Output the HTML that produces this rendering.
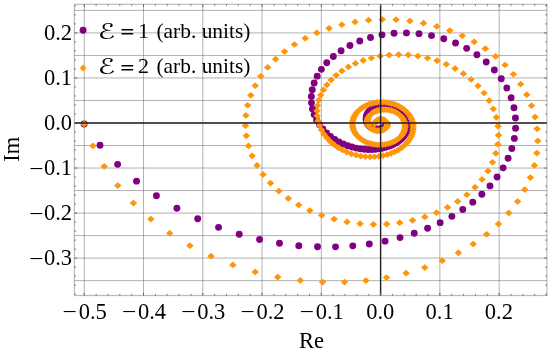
<!DOCTYPE html>
<html><head><meta charset="utf-8"><title>Re-Im plot</title>
<style>html,body{margin:0;padding:0;background:#fff}svg{display:block}text{font-family:"Liberation Serif","DejaVu Serif",serif;fill:#000}.e{font-family:"DejaVu Sans",sans-serif;font-style:italic}</style></head>
<body>
<svg width="550" height="354" viewBox="0 0 550 354">
<rect width="550" height="354" fill="#fff"/>
<g stroke="#666" stroke-opacity="0.5" stroke-width="1" fill="none"><path d="M84.25 4.3V295.5M143.52 4.3V295.5M202.79 4.3V295.5M262.06 4.3V295.5M321.33 4.3V295.5M380.6 4.3V295.5M439.87 4.3V295.5M499.14 4.3V295.5"/><path d="M74.4 280.64H546.9M74.4 258.12H546.9M74.4 235.6H546.9M74.4 213.08H546.9M74.4 190.56H546.9M74.4 168.04H546.9M74.4 145.52H546.9M74.4 123H546.9M74.4 100.48H546.9M74.4 77.96H546.9M74.4 55.44H546.9M74.4 32.92H546.9M74.4 10.4H546.9"/></g>
<g fill="#800080">
<circle cx="84.14" cy="123.93" r="3.45"/><circle cx="99.99" cy="145.26" r="3.45"/><circle cx="117.6" cy="164.33" r="3.45"/><circle cx="136.54" cy="181.13" r="3.45"/><circle cx="156.43" cy="195.74" r="3.45"/><circle cx="176.91" cy="208.24" r="3.45"/><circle cx="197.7" cy="218.73" r="3.45"/><circle cx="218.54" cy="227.34" r="3.45"/><circle cx="239.22" cy="234.2" r="3.45"/><circle cx="259.58" cy="239.45" r="3.45"/><circle cx="279.48" cy="243.22" r="3.45"/><circle cx="298.81" cy="245.63" r="3.45"/><circle cx="317.51" cy="246.8" r="3.45"/><circle cx="335.52" cy="246.84" r="3.45"/><circle cx="352.79" cy="245.86" r="3.45"/><circle cx="369.31" cy="243.95" r="3.45"/><circle cx="385.06" cy="241.16" r="3.45"/><circle cx="400.03" cy="237.59" r="3.45"/><circle cx="414.2" cy="233.28" r="3.45"/><circle cx="427.58" cy="228.28" r="3.45"/><circle cx="440.14" cy="222.63" r="3.45"/><circle cx="451.88" cy="216.37" r="3.45"/><circle cx="462.76" cy="209.54" r="3.45"/><circle cx="472.77" cy="202.16" r="3.45"/><circle cx="481.85" cy="194.27" r="3.45"/><circle cx="489.98" cy="185.89" r="3.45"/><circle cx="497.1" cy="177.07" r="3.45"/><circle cx="503.15" cy="167.86" r="3.45"/><circle cx="508.08" cy="158.3" r="3.45"/><circle cx="511.83" cy="148.45" r="3.45"/><circle cx="514.35" cy="138.39" r="3.45"/><circle cx="515.57" cy="128.19" r="3.45"/><circle cx="515.45" cy="117.95" r="3.45"/><circle cx="513.97" cy="107.78" r="3.45"/><circle cx="511.1" cy="97.78" r="3.45"/><circle cx="506.85" cy="88.07" r="3.45"/><circle cx="501.25" cy="78.79" r="3.45"/><circle cx="494.34" cy="70.05" r="3.45"/><circle cx="486.2" cy="61.99" r="3.45"/><circle cx="476.93" cy="54.72" r="3.45"/><circle cx="466.66" cy="48.36" r="3.45"/><circle cx="455.55" cy="43.01" r="3.45"/><circle cx="443.77" cy="38.74" r="3.45"/><circle cx="431.52" cy="35.61" r="3.45"/><circle cx="419.01" cy="33.66" r="3.45"/><circle cx="406.44" cy="32.9" r="3.45"/><circle cx="394.03" cy="33.32" r="3.45"/><circle cx="382" cy="34.86" r="3.45"/><circle cx="370.52" cy="37.47" r="3.45"/><circle cx="359.78" cy="41.05" r="3.45"/><circle cx="349.93" cy="45.49" r="3.45"/><circle cx="341.08" cy="50.68" r="3.45"/><circle cx="333.34" cy="56.48" r="3.45"/><circle cx="326.76" cy="62.74" r="3.45"/><circle cx="321.38" cy="69.34" r="3.45"/><circle cx="317.19" cy="76.13" r="3.45"/><circle cx="314.16" cy="82.98" r="3.45"/><circle cx="312.25" cy="89.79" r="3.45"/><circle cx="311.39" cy="96.43" r="3.45"/><circle cx="311.48" cy="102.83" r="3.45"/><circle cx="312.44" cy="108.91" r="3.45"/><circle cx="314.16" cy="114.61" r="3.45"/><circle cx="316.53" cy="119.89" r="3.45"/><circle cx="319.45" cy="124.71" r="3.45"/><circle cx="322.81" cy="129.06" r="3.45"/><circle cx="326.53" cy="132.95" r="3.45"/><circle cx="330.5" cy="136.36" r="3.45"/><circle cx="334.66" cy="139.33" r="3.45"/><circle cx="338.93" cy="141.85" r="3.45"/><circle cx="343.26" cy="143.96" r="3.45"/><circle cx="347.59" cy="145.69" r="3.45"/><circle cx="351.88" cy="147.06" r="3.45"/><circle cx="356.1" cy="148.1" r="3.45"/><circle cx="360.22" cy="148.83" r="3.45"/><circle cx="364.21" cy="149.29" r="3.45"/><circle cx="368.08" cy="149.49" r="3.45"/><circle cx="371.8" cy="149.46" r="3.45"/><circle cx="375.36" cy="149.22" r="3.45"/><circle cx="378.77" cy="148.79" r="3.45"/><circle cx="382.01" cy="148.19" r="3.45"/><circle cx="385.1" cy="147.42" r="3.45"/><circle cx="388.02" cy="146.5" r="3.45"/><circle cx="390.77" cy="145.43" r="3.45"/><circle cx="393.35" cy="144.24" r="3.45"/><circle cx="395.76" cy="142.92" r="3.45"/><circle cx="398" cy="141.48" r="3.45"/><circle cx="400.04" cy="139.92" r="3.45"/><circle cx="401.9" cy="138.27" r="3.45"/><circle cx="403.55" cy="136.51" r="3.45"/><circle cx="405" cy="134.66" r="3.45"/><circle cx="406.22" cy="132.73" r="3.45"/><circle cx="407.2" cy="130.73" r="3.45"/><circle cx="407.94" cy="128.68" r="3.45"/><circle cx="408.42" cy="126.58" r="3.45"/><circle cx="408.62" cy="124.46" r="3.45"/><circle cx="408.55" cy="122.33" r="3.45"/><circle cx="408.2" cy="120.22" r="3.45"/><circle cx="407.55" cy="118.15" r="3.45"/><circle cx="406.62" cy="116.14" r="3.45"/><circle cx="405.41" cy="114.23" r="3.45"/><circle cx="403.93" cy="112.44" r="3.45"/><circle cx="402.2" cy="110.79" r="3.45"/><circle cx="400.23" cy="109.31" r="3.45"/><circle cx="398.07" cy="108.02" r="3.45"/><circle cx="395.73" cy="106.94" r="3.45"/><circle cx="393.26" cy="106.09" r="3.45"/><circle cx="390.7" cy="105.48" r="3.45"/><circle cx="388.1" cy="105.12" r="3.45"/><circle cx="385.49" cy="105" r="3.45"/><circle cx="382.92" cy="105.13" r="3.45"/><circle cx="380.43" cy="105.49" r="3.45"/><circle cx="378.07" cy="106.07" r="3.45"/><circle cx="375.87" cy="106.84" r="3.45"/><circle cx="373.85" cy="107.8" r="3.45"/><circle cx="372.05" cy="108.9" r="3.45"/><circle cx="370.48" cy="110.12" r="3.45"/><circle cx="369.15" cy="111.44" r="3.45"/><circle cx="368.08" cy="112.82" r="3.45"/><circle cx="367.25" cy="114.23" r="3.45"/><circle cx="366.66" cy="115.66" r="3.45"/><circle cx="366.3" cy="117.07" r="3.45"/><circle cx="366.15" cy="118.44" r="3.45"/><circle cx="366.21" cy="119.76" r="3.45"/><circle cx="366.43" cy="121.01" r="3.45"/><circle cx="366.81" cy="122.18" r="3.45"/><circle cx="367.33" cy="123.26" r="3.45"/><circle cx="367.95" cy="124.25" r="3.45"/><circle cx="368.66" cy="125.14" r="3.45"/><circle cx="369.45" cy="125.93" r="3.45"/><circle cx="370.28" cy="126.62" r="3.45"/><circle cx="371.15" cy="127.22" r="3.45"/><circle cx="372.04" cy="127.74" r="3.45"/><circle cx="372.94" cy="128.16" r="3.45"/><circle cx="373.84" cy="128.51" r="3.45"/><circle cx="374.73" cy="128.78" r="3.45"/><circle cx="375.6" cy="128.98" r="3.45"/><circle cx="376.46" cy="129.13" r="3.45"/><circle cx="377.28" cy="129.21" r="3.45"/><circle cx="378.08" cy="129.25" r="3.45"/><circle cx="378.85" cy="129.23" r="3.45"/><circle cx="379.58" cy="129.18" r="3.45"/><circle cx="380.29" cy="129.08" r="3.45"/><circle cx="380.96" cy="128.95" r="3.45"/><circle cx="381.59" cy="128.78" r="3.45"/><circle cx="382.19" cy="128.59" r="3.45"/><circle cx="382.76" cy="128.36" r="3.45"/><circle cx="383.29" cy="128.11" r="3.45"/><circle cx="383.79" cy="127.83" r="3.45"/><circle cx="384.24" cy="127.52" r="3.45"/><circle cx="384.66" cy="127.2" r="3.45"/><circle cx="385.04" cy="126.85" r="3.45"/><circle cx="385.38" cy="126.48" r="3.45"/><circle cx="385.67" cy="126.09" r="3.45"/><circle cx="385.92" cy="125.69" r="3.45"/><circle cx="386.11" cy="125.27" r="3.45"/><circle cx="386.26" cy="124.84" r="3.45"/><circle cx="386.35" cy="124.41" r="3.45"/><circle cx="386.38" cy="123.97" r="3.45"/>
</g>
<path fill="#ff9608" d="M80.39 123.93l3.75 -3.35l3.75 3.35l-3.75 3.35zM89.15 145.8l3.75 -3.35l3.75 3.35l-3.75 3.35zM100.45 166.38l3.75 -3.35l3.75 3.35l-3.75 3.35zM114.05 185.53l3.75 -3.35l3.75 3.35l-3.75 3.35zM129.68 203.11l3.75 -3.35l3.75 3.35l-3.75 3.35zM147.09 219.03l3.75 -3.35l3.75 3.35l-3.75 3.35zM166 233.23l3.75 -3.35l3.75 3.35l-3.75 3.35zM186.14 245.63l3.75 -3.35l3.75 3.35l-3.75 3.35zM207.27 256.22l3.75 -3.35l3.75 3.35l-3.75 3.35zM229.11 264.97l3.75 -3.35l3.75 3.35l-3.75 3.35zM251.42 271.9l3.75 -3.35l3.75 3.35l-3.75 3.35zM273.97 277.04l3.75 -3.35l3.75 3.35l-3.75 3.35zM296.52 280.41l3.75 -3.35l3.75 3.35l-3.75 3.35zM318.86 282.09l3.75 -3.35l3.75 3.35l-3.75 3.35zM340.79 282.12l3.75 -3.35l3.75 3.35l-3.75 3.35zM362.13 280.59l3.75 -3.35l3.75 3.35l-3.75 3.35zM382.71 277.59l3.75 -3.35l3.75 3.35l-3.75 3.35zM402.38 273.21l3.75 -3.35l3.75 3.35l-3.75 3.35zM421 267.55l3.75 -3.35l3.75 3.35l-3.75 3.35zM438.45 260.72l3.75 -3.35l3.75 3.35l-3.75 3.35zM454.63 252.83l3.75 -3.35l3.75 3.35l-3.75 3.35zM469.44 244l3.75 -3.35l3.75 3.35l-3.75 3.35zM482.82 234.33l3.75 -3.35l3.75 3.35l-3.75 3.35zM494.71 223.95l3.75 -3.35l3.75 3.35l-3.75 3.35zM505.05 212.97l3.75 -3.35l3.75 3.35l-3.75 3.35zM513.83 201.52l3.75 -3.35l3.75 3.35l-3.75 3.35zM521.02 189.69l3.75 -3.35l3.75 3.35l-3.75 3.35zM526.61 177.61l3.75 -3.35l3.75 3.35l-3.75 3.35zM530.62 165.38l3.75 -3.35l3.75 3.35l-3.75 3.35zM533.06 153.11l3.75 -3.35l3.75 3.35l-3.75 3.35zM533.95 140.91l3.75 -3.35l3.75 3.35l-3.75 3.35zM533.35 128.87l3.75 -3.35l3.75 3.35l-3.75 3.35zM531.28 117.08l3.75 -3.35l3.75 3.35l-3.75 3.35zM527.81 105.65l3.75 -3.35l3.75 3.35l-3.75 3.35zM523 94.64l3.75 -3.35l3.75 3.35l-3.75 3.35zM516.92 84.15l3.75 -3.35l3.75 3.35l-3.75 3.35zM509.65 74.24l3.75 -3.35l3.75 3.35l-3.75 3.35zM501.27 64.99l3.75 -3.35l3.75 3.35l-3.75 3.35zM491.87 56.46l3.75 -3.35l3.75 3.35l-3.75 3.35zM481.55 48.71l3.75 -3.35l3.75 3.35l-3.75 3.35zM470.41 41.78l3.75 -3.35l3.75 3.35l-3.75 3.35zM458.54 35.73l3.75 -3.35l3.75 3.35l-3.75 3.35zM446.07 30.59l3.75 -3.35l3.75 3.35l-3.75 3.35zM433.09 26.39l3.75 -3.35l3.75 3.35l-3.75 3.35zM419.73 23.17l3.75 -3.35l3.75 3.35l-3.75 3.35zM406.1 20.93l3.75 -3.35l3.75 3.35l-3.75 3.35zM392.31 19.69l3.75 -3.35l3.75 3.35l-3.75 3.35zM378.5 19.44l3.75 -3.35l3.75 3.35l-3.75 3.35zM364.77 20.2l3.75 -3.35l3.75 3.35l-3.75 3.35zM351.24 21.94l3.75 -3.35l3.75 3.35l-3.75 3.35zM338.04 24.65l3.75 -3.35l3.75 3.35l-3.75 3.35zM325.27 28.3l3.75 -3.35l3.75 3.35l-3.75 3.35zM313.06 32.85l3.75 -3.35l3.75 3.35l-3.75 3.35zM301.5 38.27l3.75 -3.35l3.75 3.35l-3.75 3.35zM290.71 44.5l3.75 -3.35l3.75 3.35l-3.75 3.35zM280.78 51.49l3.75 -3.35l3.75 3.35l-3.75 3.35zM271.81 59.17l3.75 -3.35l3.75 3.35l-3.75 3.35zM263.87 67.47l3.75 -3.35l3.75 3.35l-3.75 3.35zM257.05 76.32l3.75 -3.35l3.75 3.35l-3.75 3.35zM251.41 85.63l3.75 -3.35l3.75 3.35l-3.75 3.35zM247.02 95.31l3.75 -3.35l3.75 3.35l-3.75 3.35zM243.9 105.27l3.75 -3.35l3.75 3.35l-3.75 3.35zM242.11 115.42l3.75 -3.35l3.75 3.35l-3.75 3.35zM241.67 125.65l3.75 -3.35l3.75 3.35l-3.75 3.35zM242.57 135.87l3.75 -3.35l3.75 3.35l-3.75 3.35zM244.82 145.96l3.75 -3.35l3.75 3.35l-3.75 3.35zM248.39 155.83l3.75 -3.35l3.75 3.35l-3.75 3.35zM253.26 165.38l3.75 -3.35l3.75 3.35l-3.75 3.35zM259.38 174.5l3.75 -3.35l3.75 3.35l-3.75 3.35zM266.69 183.1l3.75 -3.35l3.75 3.35l-3.75 3.35zM275.1 191.09l3.75 -3.35l3.75 3.35l-3.75 3.35zM284.54 198.38l3.75 -3.35l3.75 3.35l-3.75 3.35zM294.9 204.9l3.75 -3.35l3.75 3.35l-3.75 3.35zM306.08 210.56l3.75 -3.35l3.75 3.35l-3.75 3.35zM317.95 215.32l3.75 -3.35l3.75 3.35l-3.75 3.35zM330.37 219.12l3.75 -3.35l3.75 3.35l-3.75 3.35zM343.23 221.92l3.75 -3.35l3.75 3.35l-3.75 3.35zM356.36 223.69l3.75 -3.35l3.75 3.35l-3.75 3.35zM369.63 224.41l3.75 -3.35l3.75 3.35l-3.75 3.35zM382.88 224.09l3.75 -3.35l3.75 3.35l-3.75 3.35zM395.96 222.72l3.75 -3.35l3.75 3.35l-3.75 3.35zM408.73 220.33l3.75 -3.35l3.75 3.35l-3.75 3.35zM421.05 216.96l3.75 -3.35l3.75 3.35l-3.75 3.35zM432.77 212.66l3.75 -3.35l3.75 3.35l-3.75 3.35zM443.77 207.47l3.75 -3.35l3.75 3.35l-3.75 3.35zM453.92 201.46l3.75 -3.35l3.75 3.35l-3.75 3.35zM463.12 194.73l3.75 -3.35l3.75 3.35l-3.75 3.35zM471.28 187.35l3.75 -3.35l3.75 3.35l-3.75 3.35zM478.31 179.42l3.75 -3.35l3.75 3.35l-3.75 3.35zM484.15 171.03l3.75 -3.35l3.75 3.35l-3.75 3.35zM488.74 162.31l3.75 -3.35l3.75 3.35l-3.75 3.35zM492.06 153.34l3.75 -3.35l3.75 3.35l-3.75 3.35zM494.08 144.25l3.75 -3.35l3.75 3.35l-3.75 3.35zM494.82 135.15l3.75 -3.35l3.75 3.35l-3.75 3.35zM494.29 126.14l3.75 -3.35l3.75 3.35l-3.75 3.35zM492.52 117.32l3.75 -3.35l3.75 3.35l-3.75 3.35zM489.56 108.8l3.75 -3.35l3.75 3.35l-3.75 3.35zM485.48 100.67l3.75 -3.35l3.75 3.35l-3.75 3.35zM480.36 93.01l3.75 -3.35l3.75 3.35l-3.75 3.35zM474.28 85.91l3.75 -3.35l3.75 3.35l-3.75 3.35zM467.35 79.43l3.75 -3.35l3.75 3.35l-3.75 3.35zM459.67 73.63l3.75 -3.35l3.75 3.35l-3.75 3.35zM451.36 68.56l3.75 -3.35l3.75 3.35l-3.75 3.35zM442.53 64.25l3.75 -3.35l3.75 3.35l-3.75 3.35zM433.31 60.72l3.75 -3.35l3.75 3.35l-3.75 3.35zM423.81 58l3.75 -3.35l3.75 3.35l-3.75 3.35zM414.17 56.09l3.75 -3.35l3.75 3.35l-3.75 3.35zM404.5 54.97l3.75 -3.35l3.75 3.35l-3.75 3.35zM394.9 54.63l3.75 -3.35l3.75 3.35l-3.75 3.35zM385.5 55.04l3.75 -3.35l3.75 3.35l-3.75 3.35zM376.39 56.18l3.75 -3.35l3.75 3.35l-3.75 3.35zM367.67 57.98l3.75 -3.35l3.75 3.35l-3.75 3.35zM359.42 60.42l3.75 -3.35l3.75 3.35l-3.75 3.35zM351.7 63.42l3.75 -3.35l3.75 3.35l-3.75 3.35zM344.6 66.93l3.75 -3.35l3.75 3.35l-3.75 3.35zM338.15 70.89l3.75 -3.35l3.75 3.35l-3.75 3.35zM332.41 75.23l3.75 -3.35l3.75 3.35l-3.75 3.35zM327.4 79.89l3.75 -3.35l3.75 3.35l-3.75 3.35zM323.15 84.8l3.75 -3.35l3.75 3.35l-3.75 3.35zM319.66 89.88l3.75 -3.35l3.75 3.35l-3.75 3.35zM316.94 95.09l3.75 -3.35l3.75 3.35l-3.75 3.35zM314.98 100.35l3.75 -3.35l3.75 3.35l-3.75 3.35zM313.76 105.6l3.75 -3.35l3.75 3.35l-3.75 3.35zM313.26 110.79l3.75 -3.35l3.75 3.35l-3.75 3.35zM313.45 115.87l3.75 -3.35l3.75 3.35l-3.75 3.35zM314.28 120.78l3.75 -3.35l3.75 3.35l-3.75 3.35zM315.72 125.49l3.75 -3.35l3.75 3.35l-3.75 3.35zM317.73 129.95l3.75 -3.35l3.75 3.35l-3.75 3.35zM320.24 134.13l3.75 -3.35l3.75 3.35l-3.75 3.35zM323.22 138l3.75 -3.35l3.75 3.35l-3.75 3.35zM326.6 141.54l3.75 -3.35l3.75 3.35l-3.75 3.35zM330.33 144.73l3.75 -3.35l3.75 3.35l-3.75 3.35zM334.35 147.56l3.75 -3.35l3.75 3.35l-3.75 3.35zM338.62 150.01l3.75 -3.35l3.75 3.35l-3.75 3.35zM343.06 152.08l3.75 -3.35l3.75 3.35l-3.75 3.35zM347.64 153.78l3.75 -3.35l3.75 3.35l-3.75 3.35zM352.3 155.09l3.75 -3.35l3.75 3.35l-3.75 3.35zM356.99 156.03l3.75 -3.35l3.75 3.35l-3.75 3.35zM361.67 156.62l3.75 -3.35l3.75 3.35l-3.75 3.35zM366.29 156.85l3.75 -3.35l3.75 3.35l-3.75 3.35zM370.81 156.74l3.75 -3.35l3.75 3.35l-3.75 3.35zM375.2 156.32l3.75 -3.35l3.75 3.35l-3.75 3.35zM379.42 155.6l3.75 -3.35l3.75 3.35l-3.75 3.35zM383.44 154.59l3.75 -3.35l3.75 3.35l-3.75 3.35zM387.23 153.33l3.75 -3.35l3.75 3.35l-3.75 3.35zM390.77 151.84l3.75 -3.35l3.75 3.35l-3.75 3.35zM394.04 150.13l3.75 -3.35l3.75 3.35l-3.75 3.35zM397.02 148.23l3.75 -3.35l3.75 3.35l-3.75 3.35zM399.7 146.17l3.75 -3.35l3.75 3.35l-3.75 3.35zM402.06 143.97l3.75 -3.35l3.75 3.35l-3.75 3.35zM404.1 141.65l3.75 -3.35l3.75 3.35l-3.75 3.35zM405.82 139.24l3.75 -3.35l3.75 3.35l-3.75 3.35zM407.2 136.76l3.75 -3.35l3.75 3.35l-3.75 3.35zM408.25 134.24l3.75 -3.35l3.75 3.35l-3.75 3.35zM408.97 131.69l3.75 -3.35l3.75 3.35l-3.75 3.35zM409.37 129.14l3.75 -3.35l3.75 3.35l-3.75 3.35zM409.45 126.61l3.75 -3.35l3.75 3.35l-3.75 3.35zM409.22 124.13l3.75 -3.35l3.75 3.35l-3.75 3.35zM408.69 121.7l3.75 -3.35l3.75 3.35l-3.75 3.35zM407.88 119.35l3.75 -3.35l3.75 3.35l-3.75 3.35zM406.79 117.1l3.75 -3.35l3.75 3.35l-3.75 3.35zM405.44 114.95l3.75 -3.35l3.75 3.35l-3.75 3.35zM403.85 112.94l3.75 -3.35l3.75 3.35l-3.75 3.35zM402.03 111.06l3.75 -3.35l3.75 3.35l-3.75 3.35zM400.01 109.34l3.75 -3.35l3.75 3.35l-3.75 3.35zM397.81 107.79l3.75 -3.35l3.75 3.35l-3.75 3.35zM395.44 106.41l3.75 -3.35l3.75 3.35l-3.75 3.35zM392.93 105.21l3.75 -3.35l3.75 3.35l-3.75 3.35zM390.29 104.21l3.75 -3.35l3.75 3.35l-3.75 3.35zM387.57 103.41l3.75 -3.35l3.75 3.35l-3.75 3.35zM384.77 102.8l3.75 -3.35l3.75 3.35l-3.75 3.35zM381.92 102.41l3.75 -3.35l3.75 3.35l-3.75 3.35zM379.05 102.22l3.75 -3.35l3.75 3.35l-3.75 3.35zM376.18 102.24l3.75 -3.35l3.75 3.35l-3.75 3.35zM373.34 102.47l3.75 -3.35l3.75 3.35l-3.75 3.35zM370.55 102.9l3.75 -3.35l3.75 3.35l-3.75 3.35zM367.83 103.53l3.75 -3.35l3.75 3.35l-3.75 3.35zM365.21 104.35l3.75 -3.35l3.75 3.35l-3.75 3.35zM362.72 105.36l3.75 -3.35l3.75 3.35l-3.75 3.35zM360.37 106.54l3.75 -3.35l3.75 3.35l-3.75 3.35zM358.18 107.89l3.75 -3.35l3.75 3.35l-3.75 3.35zM356.18 109.39l3.75 -3.35l3.75 3.35l-3.75 3.35zM354.39 111.03l3.75 -3.35l3.75 3.35l-3.75 3.35zM352.81 112.8l3.75 -3.35l3.75 3.35l-3.75 3.35zM351.48 114.67l3.75 -3.35l3.75 3.35l-3.75 3.35zM350.39 116.64l3.75 -3.35l3.75 3.35l-3.75 3.35zM349.56 118.67l3.75 -3.35l3.75 3.35l-3.75 3.35zM349.01 120.76l3.75 -3.35l3.75 3.35l-3.75 3.35zM348.73 122.88l3.75 -3.35l3.75 3.35l-3.75 3.35zM348.73 125l3.75 -3.35l3.75 3.35l-3.75 3.35zM349.01 127.12l3.75 -3.35l3.75 3.35l-3.75 3.35zM349.58 129.21l3.75 -3.35l3.75 3.35l-3.75 3.35zM350.41 131.24l3.75 -3.35l3.75 3.35l-3.75 3.35zM351.51 133.2l3.75 -3.35l3.75 3.35l-3.75 3.35zM352.87 135.06l3.75 -3.35l3.75 3.35l-3.75 3.35zM354.46 136.8l3.75 -3.35l3.75 3.35l-3.75 3.35zM356.29 138.42l3.75 -3.35l3.75 3.35l-3.75 3.35zM358.32 139.88l3.75 -3.35l3.75 3.35l-3.75 3.35zM360.53 141.18l3.75 -3.35l3.75 3.35l-3.75 3.35zM362.91 142.29l3.75 -3.35l3.75 3.35l-3.75 3.35zM365.41 143.22l3.75 -3.35l3.75 3.35l-3.75 3.35zM368.03 143.94l3.75 -3.35l3.75 3.35l-3.75 3.35zM370.73 144.45l3.75 -3.35l3.75 3.35l-3.75 3.35zM373.47 144.74l3.75 -3.35l3.75 3.35l-3.75 3.35zM376.23 144.82l3.75 -3.35l3.75 3.35l-3.75 3.35zM378.98 144.68l3.75 -3.35l3.75 3.35l-3.75 3.35zM381.68 144.32l3.75 -3.35l3.75 3.35l-3.75 3.35zM384.3 143.76l3.75 -3.35l3.75 3.35l-3.75 3.35zM386.82 142.99l3.75 -3.35l3.75 3.35l-3.75 3.35zM389.21 142.03l3.75 -3.35l3.75 3.35l-3.75 3.35zM391.44 140.89l3.75 -3.35l3.75 3.35l-3.75 3.35zM393.49 139.59l3.75 -3.35l3.75 3.35l-3.75 3.35zM395.33 138.15l3.75 -3.35l3.75 3.35l-3.75 3.35zM396.95 136.57l3.75 -3.35l3.75 3.35l-3.75 3.35zM398.33 134.89l3.75 -3.35l3.75 3.35l-3.75 3.35zM399.46 133.12l3.75 -3.35l3.75 3.35l-3.75 3.35zM400.32 131.29l3.75 -3.35l3.75 3.35l-3.75 3.35zM400.92 129.41l3.75 -3.35l3.75 3.35l-3.75 3.35zM401.25 127.52l3.75 -3.35l3.75 3.35l-3.75 3.35zM401.32 125.63l3.75 -3.35l3.75 3.35l-3.75 3.35zM401.12 123.77l3.75 -3.35l3.75 3.35l-3.75 3.35zM400.67 121.95l3.75 -3.35l3.75 3.35l-3.75 3.35zM399.97 120.21l3.75 -3.35l3.75 3.35l-3.75 3.35zM399.05 118.55l3.75 -3.35l3.75 3.35l-3.75 3.35zM397.92 116.99l3.75 -3.35l3.75 3.35l-3.75 3.35zM396.59 115.56l3.75 -3.35l3.75 3.35l-3.75 3.35zM395.09 114.26l3.75 -3.35l3.75 3.35l-3.75 3.35zM393.45 113.1l3.75 -3.35l3.75 3.35l-3.75 3.35zM391.68 112.1l3.75 -3.35l3.75 3.35l-3.75 3.35zM389.82 111.26l3.75 -3.35l3.75 3.35l-3.75 3.35zM387.88 110.58l3.75 -3.35l3.75 3.35l-3.75 3.35zM385.89 110.07l3.75 -3.35l3.75 3.35l-3.75 3.35zM383.88 109.73l3.75 -3.35l3.75 3.35l-3.75 3.35zM381.88 109.55l3.75 -3.35l3.75 3.35l-3.75 3.35zM379.89 109.54l3.75 -3.35l3.75 3.35l-3.75 3.35zM377.96 109.67l3.75 -3.35l3.75 3.35l-3.75 3.35zM376.09 109.96l3.75 -3.35l3.75 3.35l-3.75 3.35zM374.31 110.38l3.75 -3.35l3.75 3.35l-3.75 3.35zM372.63 110.92l3.75 -3.35l3.75 3.35l-3.75 3.35zM371.06 111.58l3.75 -3.35l3.75 3.35l-3.75 3.35zM369.63 112.35l3.75 -3.35l3.75 3.35l-3.75 3.35zM368.34 113.2l3.75 -3.35l3.75 3.35l-3.75 3.35zM367.2 114.13l3.75 -3.35l3.75 3.35l-3.75 3.35zM366.21 115.11l3.75 -3.35l3.75 3.35l-3.75 3.35zM365.38 116.15l3.75 -3.35l3.75 3.35l-3.75 3.35zM364.71 117.21l3.75 -3.35l3.75 3.35l-3.75 3.35zM364.19 118.3l3.75 -3.35l3.75 3.35l-3.75 3.35zM363.84 119.4l3.75 -3.35l3.75 3.35l-3.75 3.35zM363.64 120.48l3.75 -3.35l3.75 3.35l-3.75 3.35zM363.58 121.56l3.75 -3.35l3.75 3.35l-3.75 3.35zM363.67 122.6l3.75 -3.35l3.75 3.35l-3.75 3.35zM363.88 123.61l3.75 -3.35l3.75 3.35l-3.75 3.35zM364.22 124.57l3.75 -3.35l3.75 3.35l-3.75 3.35zM364.68 125.48l3.75 -3.35l3.75 3.35l-3.75 3.35zM365.23 126.33l3.75 -3.35l3.75 3.35l-3.75 3.35zM365.88 127.11l3.75 -3.35l3.75 3.35l-3.75 3.35zM366.61 127.82l3.75 -3.35l3.75 3.35l-3.75 3.35zM367.41 128.46l3.75 -3.35l3.75 3.35l-3.75 3.35zM368.26 129.02l3.75 -3.35l3.75 3.35l-3.75 3.35zM369.16 129.51l3.75 -3.35l3.75 3.35l-3.75 3.35zM370.1 129.91l3.75 -3.35l3.75 3.35l-3.75 3.35zM371.06 130.24l3.75 -3.35l3.75 3.35l-3.75 3.35zM372.03 130.48l3.75 -3.35l3.75 3.35l-3.75 3.35zM373 130.65l3.75 -3.35l3.75 3.35l-3.75 3.35zM373.97 130.75l3.75 -3.35l3.75 3.35l-3.75 3.35zM374.93 130.77l3.75 -3.35l3.75 3.35l-3.75 3.35zM375.86 130.73l3.75 -3.35l3.75 3.35l-3.75 3.35zM376.76 130.62l3.75 -3.35l3.75 3.35l-3.75 3.35zM377.62 130.45l3.75 -3.35l3.75 3.35l-3.75 3.35zM378.44 130.22l3.75 -3.35l3.75 3.35l-3.75 3.35zM379.21 129.94l3.75 -3.35l3.75 3.35l-3.75 3.35zM379.93 129.62l3.75 -3.35l3.75 3.35l-3.75 3.35zM380.59 129.25l3.75 -3.35l3.75 3.35l-3.75 3.35zM381.19 128.84l3.75 -3.35l3.75 3.35l-3.75 3.35zM381.72 128.4l3.75 -3.35l3.75 3.35l-3.75 3.35zM382.19 127.94l3.75 -3.35l3.75 3.35l-3.75 3.35zM382.6 127.45l3.75 -3.35l3.75 3.35l-3.75 3.35zM382.93 126.94l3.75 -3.35l3.75 3.35l-3.75 3.35zM383.19 126.42l3.75 -3.35l3.75 3.35l-3.75 3.35zM383.39 125.89l3.75 -3.35l3.75 3.35l-3.75 3.35zM383.52 125.36l3.75 -3.35l3.75 3.35l-3.75 3.35zM383.58 124.84l3.75 -3.35l3.75 3.35l-3.75 3.35zM383.57 124.31l3.75 -3.35l3.75 3.35l-3.75 3.35zM383.5 123.8l3.75 -3.35l3.75 3.35l-3.75 3.35zM383.37 123.3l3.75 -3.35l3.75 3.35l-3.75 3.35zM383.18 122.82l3.75 -3.35l3.75 3.35l-3.75 3.35zM382.94 122.36l3.75 -3.35l3.75 3.35l-3.75 3.35zM382.64 121.92l3.75 -3.35l3.75 3.35l-3.75 3.35zM382.29 121.51l3.75 -3.35l3.75 3.35l-3.75 3.35zM381.9 121.13l3.75 -3.35l3.75 3.35l-3.75 3.35zM381.47 120.79l3.75 -3.35l3.75 3.35l-3.75 3.35zM381 120.47l3.75 -3.35l3.75 3.35l-3.75 3.35zM380.49 120.2l3.75 -3.35l3.75 3.35l-3.75 3.35zM379.96 119.96l3.75 -3.35l3.75 3.35l-3.75 3.35zM379.41 119.77l3.75 -3.35l3.75 3.35l-3.75 3.35zM378.84 119.62l3.75 -3.35l3.75 3.35l-3.75 3.35zM378.25 119.51l3.75 -3.35l3.75 3.35l-3.75 3.35zM377.66 119.44l3.75 -3.35l3.75 3.35l-3.75 3.35zM377.06 119.41l3.75 -3.35l3.75 3.35l-3.75 3.35zM376.46 119.43l3.75 -3.35l3.75 3.35l-3.75 3.35zM375.88 119.49l3.75 -3.35l3.75 3.35l-3.75 3.35zM375.3 119.6l3.75 -3.35l3.75 3.35l-3.75 3.35zM374.74 119.74l3.75 -3.35l3.75 3.35l-3.75 3.35zM374.21 119.93l3.75 -3.35l3.75 3.35l-3.75 3.35zM373.7 120.15l3.75 -3.35l3.75 3.35l-3.75 3.35zM373.22 120.41l3.75 -3.35l3.75 3.35l-3.75 3.35zM372.78 120.7l3.75 -3.35l3.75 3.35l-3.75 3.35zM372.38 121.02l3.75 -3.35l3.75 3.35l-3.75 3.35zM372.02 121.37l3.75 -3.35l3.75 3.35l-3.75 3.35zM371.71 121.74l3.75 -3.35l3.75 3.35l-3.75 3.35zM371.45 122.14l3.75 -3.35l3.75 3.35l-3.75 3.35zM371.24 122.55l3.75 -3.35l3.75 3.35l-3.75 3.35zM371.09 122.98l3.75 -3.35l3.75 3.35l-3.75 3.35zM370.99 123.42l3.75 -3.35l3.75 3.35l-3.75 3.35zM370.95 123.86l3.75 -3.35l3.75 3.35l-3.75 3.35z"/>
<circle cx="83.1" cy="30.2" r="3.45" fill="#800080"/>
<path fill="#ff9608" d="M79.7 68l3.4 -3.4l3.4 3.4l-3.4 3.4z"/>
<path d="M74.4 123H546.9M380.6 4.3V295.5" stroke="#222" stroke-width="1.4" fill="none"/>
<path d="M84.25 295.5v-2.7M84.25 4.3v2.7M96.1 295.5v-1.6M96.1 4.3v1.6M107.96 295.5v-1.6M107.96 4.3v1.6M119.81 295.5v-1.6M119.81 4.3v1.6M131.67 295.5v-1.6M131.67 4.3v1.6M143.52 295.5v-2.7M143.52 4.3v2.7M155.37 295.5v-1.6M155.37 4.3v1.6M167.23 295.5v-1.6M167.23 4.3v1.6M179.08 295.5v-1.6M179.08 4.3v1.6M190.94 295.5v-1.6M190.94 4.3v1.6M202.79 295.5v-2.7M202.79 4.3v2.7M214.64 295.5v-1.6M214.64 4.3v1.6M226.5 295.5v-1.6M226.5 4.3v1.6M238.35 295.5v-1.6M238.35 4.3v1.6M250.21 295.5v-1.6M250.21 4.3v1.6M262.06 295.5v-2.7M262.06 4.3v2.7M273.91 295.5v-1.6M273.91 4.3v1.6M285.77 295.5v-1.6M285.77 4.3v1.6M297.62 295.5v-1.6M297.62 4.3v1.6M309.48 295.5v-1.6M309.48 4.3v1.6M321.33 295.5v-2.7M321.33 4.3v2.7M333.18 295.5v-1.6M333.18 4.3v1.6M345.04 295.5v-1.6M345.04 4.3v1.6M356.89 295.5v-1.6M356.89 4.3v1.6M368.75 295.5v-1.6M368.75 4.3v1.6M380.6 295.5v-2.7M380.6 4.3v2.7M392.45 295.5v-1.6M392.45 4.3v1.6M404.31 295.5v-1.6M404.31 4.3v1.6M416.16 295.5v-1.6M416.16 4.3v1.6M428.02 295.5v-1.6M428.02 4.3v1.6M439.87 295.5v-2.7M439.87 4.3v2.7M451.72 295.5v-1.6M451.72 4.3v1.6M463.58 295.5v-1.6M463.58 4.3v1.6M475.43 295.5v-1.6M475.43 4.3v1.6M487.29 295.5v-1.6M487.29 4.3v1.6M499.14 295.5v-2.7M499.14 4.3v2.7M510.99 295.5v-1.6M510.99 4.3v1.6M522.85 295.5v-1.6M522.85 4.3v1.6M534.7 295.5v-1.6M534.7 4.3v1.6M546.56 295.5v-1.6M546.56 4.3v1.6M74.4 294.15h1.6M546.9 294.15h-1.6M74.4 285.14h1.6M546.9 285.14h-1.6M74.4 276.14h1.6M546.9 276.14h-1.6M74.4 267.13h1.6M546.9 267.13h-1.6M74.4 258.12h2.7M546.9 258.12h-2.7M74.4 249.11h1.6M546.9 249.11h-1.6M74.4 240.1h1.6M546.9 240.1h-1.6M74.4 231.1h1.6M546.9 231.1h-1.6M74.4 222.09h1.6M546.9 222.09h-1.6M74.4 213.08h2.7M546.9 213.08h-2.7M74.4 204.07h1.6M546.9 204.07h-1.6M74.4 195.06h1.6M546.9 195.06h-1.6M74.4 186.06h1.6M546.9 186.06h-1.6M74.4 177.05h1.6M546.9 177.05h-1.6M74.4 168.04h2.7M546.9 168.04h-2.7M74.4 159.03h1.6M546.9 159.03h-1.6M74.4 150.02h1.6M546.9 150.02h-1.6M74.4 141.02h1.6M546.9 141.02h-1.6M74.4 132.01h1.6M546.9 132.01h-1.6M74.4 123h2.7M546.9 123h-2.7M74.4 113.99h1.6M546.9 113.99h-1.6M74.4 104.98h1.6M546.9 104.98h-1.6M74.4 95.98h1.6M546.9 95.98h-1.6M74.4 86.97h1.6M546.9 86.97h-1.6M74.4 77.96h2.7M546.9 77.96h-2.7M74.4 68.95h1.6M546.9 68.95h-1.6M74.4 59.94h1.6M546.9 59.94h-1.6M74.4 50.94h1.6M546.9 50.94h-1.6M74.4 41.93h1.6M546.9 41.93h-1.6M74.4 32.92h2.7M546.9 32.92h-2.7M74.4 23.91h1.6M546.9 23.91h-1.6M74.4 14.9h1.6M546.9 14.9h-1.6M74.4 5.9h1.6M546.9 5.9h-1.6" stroke="#555" stroke-width="0.85" fill="none"/>
<rect x="74.4" y="4.3" width="472.5" height="291.2" fill="none" stroke="#666" stroke-opacity="0.45" stroke-width="1.2"/>
<g font-size="22.5">
<text font-size="22.5" transform="translate(62.61 319.3) scale(1.13 1)">−</text><text x="78.65" y="318.5">0.5</text><text font-size="22.5" transform="translate(121.88 319.3) scale(1.13 1)">−</text><text x="137.92" y="318.5">0.4</text><text font-size="22.5" transform="translate(181.15 319.3) scale(1.13 1)">−</text><text x="197.19" y="318.5">0.3</text><text font-size="22.5" transform="translate(240.42 319.3) scale(1.13 1)">−</text><text x="256.46" y="318.5">0.2</text><text font-size="22.5" transform="translate(299.69 319.3) scale(1.13 1)">−</text><text x="315.73" y="318.5">0.1</text><text x="380.3" y="318.5" text-anchor="middle">0.0</text><text x="439.57" y="318.5" text-anchor="middle">0.1</text><text x="498.84" y="318.5" text-anchor="middle">0.2</text>
<text x="311.5" y="347.5" text-anchor="middle">Re</text>
<text font-size="22.5" transform="translate(29.16 266.12) scale(1.13 1)">−</text><text x="72" y="265.32" text-anchor="end">0.3</text><text font-size="22.5" transform="translate(29.16 221.08) scale(1.13 1)">−</text><text x="72" y="220.28" text-anchor="end">0.2</text><text font-size="22.5" transform="translate(29.16 176.04) scale(1.13 1)">−</text><text x="72" y="175.24" text-anchor="end">0.1</text><text x="72" y="130.2" text-anchor="end">0.0</text><text x="72" y="85.16" text-anchor="end">0.1</text><text x="72" y="40.12" text-anchor="end">0.2</text>
<text text-anchor="middle" transform="translate(19.2 149.3) rotate(-90)">Im</text>
<text class="e" font-size="22" transform="translate(97.7 39) scale(1.3 1)">ℰ</text><text font-size="22" font-weight="bold" transform="translate(120.2 39.2) scale(1.14 1)">=</text><text font-size="22" x="138.1" y="37.6">1</text><text font-size="21.4" x="156.5" y="37.6">(arb. units)</text>
<text class="e" font-size="22" transform="translate(97.7 74.4) scale(1.3 1)">ℰ</text><text font-size="22" font-weight="bold" transform="translate(120.2 74.6) scale(1.14 1)">=</text><text font-size="22" x="138.1" y="73">2</text><text font-size="21.4" x="156.5" y="73">(arb. units)</text>
</g>
</svg>
</body></html>
